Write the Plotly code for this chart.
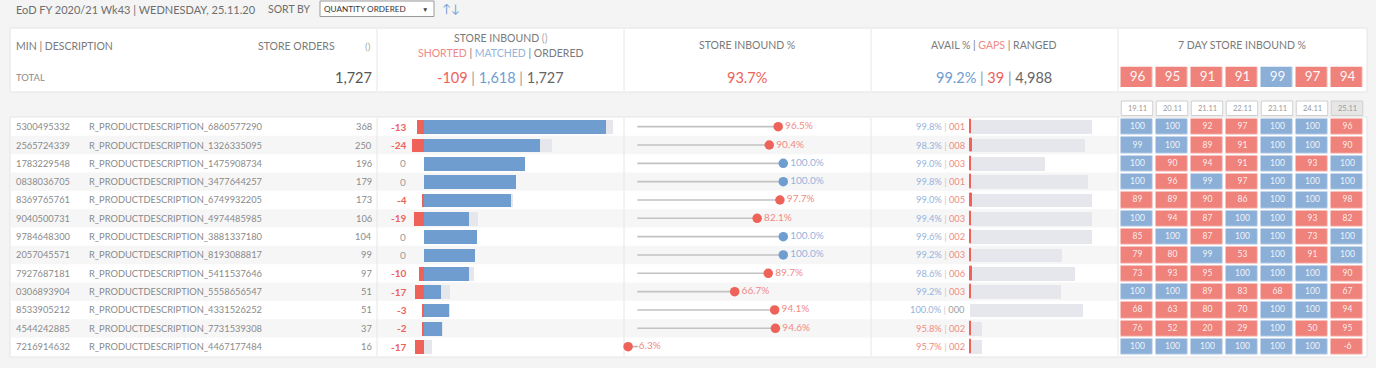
import plotly.graph_objects as go

W, H = 1376, 368
def px(x): return x / W
def py(y): return 1 - y / H

# ---------------- data ----------------
mins = ["5300495332", "2565724339", "1783229548", "0838036705", "8369765761", "9040500731",
        "9784648300", "2057045571", "7927687181", "0306893904", "8533905212", "4544242885", "7216914632"]
descs = ["R_PRODUCTDESCRIPTION_6860577290", "R_PRODUCTDESCRIPTION_1326335095", "R_PRODUCTDESCRIPTION_1475908734",
         "R_PRODUCTDESCRIPTION_3477644257", "R_PRODUCTDESCRIPTION_6749932205", "R_PRODUCTDESCRIPTION_4974485985",
         "R_PRODUCTDESCRIPTION_3881337180", "R_PRODUCTDESCRIPTION_8193088817", "R_PRODUCTDESCRIPTION_5411537646",
         "R_PRODUCTDESCRIPTION_5558656547", "R_PRODUCTDESCRIPTION_4331526252", "R_PRODUCTDESCRIPTION_7731539308",
         "R_PRODUCTDESCRIPTION_4467177484"]
orders = [368, 250, 196, 179, 173, 106, 104, 99, 97, 51, 51, 37, 16]
shorted = [-13, -24, 0, 0, -4, -19, 0, 0, -10, -17, -3, -2, -17]
inbound_pct = [96.5, 90.4, 100.0, 100.0, 97.7, 82.1, 100.0, 100.0, 89.7, 66.7, 94.1, 94.6, -6.3]
avail_pct = [99.8, 98.3, 99.0, 99.8, 99.0, 99.4, 99.6, 99.2, 98.6, 99.2, 100.0, 95.8, 95.7]
gaps = [1, 8, 3, 1, 5, 3, 2, 3, 6, 3, 0, 2, 2]
ranged = [500, 470, 306, 483, 500, 500, 500, 376, 427, 371, 460, 48, 47]
day_labels = ["19.11", "20.11", "21.11", "22.11", "23.11", "24.11", "25.11"]
day_values = [
    [100, 100, 92, 97, 100, 100, 96],
    [99, 100, 89, 91, 100, 100, 90],
    [100, 90, 94, 91, 100, 93, 100],
    [100, 96, 99, 97, 100, 100, 100],
    [89, 89, 90, 86, 100, 100, 98],
    [100, 94, 87, 100, 100, 93, 82],
    [85, 100, 87, 100, 100, 73, 100],
    [79, 80, 99, 53, 100, 91, 100],
    [73, 93, 95, 100, 100, 100, 90],
    [100, 100, 89, 83, 68, 100, 67],
    [68, 63, 80, 70, 100, 100, 94],
    [76, 52, 20, 29, 100, 50, 95],
    [100, 100, 100, 100, 100, 100, -6],
]
summary_day = [96, 95, 91, 91, 99, 97, 94]
total_avail_pct = 99.2

# ---------------- styles ----------------
FONT = "Lato, 'Open Sans', sans-serif"
RED = "#ee6259"
BLUE = "#6f9dd0"
RED_LT = "#f08a84"
BLUE_LT = "#94b4dc"
GRAY_BAR = "#e6e7ec"
CELL_RED = "#ef827b"
CELL_BLUE = "#8cafd7"
TXT = "#8a8a8a"
HDR = "#7a7a7a"

n = len(mins)
rows = list(range(n))
matched = [o + s for o, s in zip(orders, shorted)]

fig = go.Figure()

# store inbound bars
fig.add_trace(go.Bar(y=rows, x=orders, orientation="h", width=0.76, marker=dict(color=GRAY_BAR, line=dict(width=0)),
                     xaxis="x", yaxis="y", hoverinfo="skip"))
fig.add_trace(go.Bar(y=rows, x=matched, orientation="h", width=0.76, marker=dict(color=BLUE, line=dict(width=0)),
                     xaxis="x", yaxis="y", hoverinfo="skip"))
fig.add_trace(go.Bar(y=rows, x=[s if s else None for s in shorted], orientation="h", width=0.76,
                     marker=dict(color=RED, line=dict(width=0)), xaxis="x", yaxis="y", hoverinfo="skip"))

# lollipop
lx, ly = [], []
for i, v in enumerate(inbound_pct):
    lx += [0, v, None]
    ly += [i, i, None]
fig.add_trace(go.Scatter(x=lx, y=ly, mode="lines", line=dict(color="#c2c2c2", width=1.6),
                         xaxis="x2", yaxis="y", hoverinfo="skip"))
fig.add_trace(go.Scatter(x=inbound_pct, y=rows, mode="markers+text",
                         marker=dict(size=9.5, color=[BLUE if v >= 100 else RED for v in inbound_pct]),
                         text=[f"{v:.1f}%" for v in inbound_pct], textposition="middle right",
                         textfont=dict(size=10, family=FONT, color=[BLUE_LT if v >= 100 else RED_LT for v in inbound_pct]),
                         cliponaxis=False, xaxis="x2", yaxis="y", hoverinfo="skip"))

# availability bars
fig.add_trace(go.Bar(y=rows, x=ranged, orientation="h", width=0.76, marker=dict(color=GRAY_BAR, line=dict(width=0)),
                     xaxis="x3", yaxis="y", hoverinfo="skip"))
fig.add_trace(go.Bar(y=rows, x=[g if g else None for g in gaps], orientation="h", width=0.76,
                     marker=dict(color=RED, line=dict(color=RED, width=1)), xaxis="x3", yaxis="y", hoverinfo="skip"))

# 7 day heatmap
cs = [[0, CELL_RED], [0.5, CELL_RED], [0.5, CELL_BLUE], [1, CELL_BLUE]]
fig.add_trace(go.Heatmap(z=[[1 if v >= 99 else 0 for v in r] for r in day_values], x=list(range(7)), y=rows,
                         text=day_values, texttemplate="%{text}",
                         textfont=dict(size=8.5, family=FONT, color="rgba(255,255,255,0.88)"),
                         colorscale=cs, zmin=0, zmax=1, showscale=False, xgap=3.2, ygap=2.3,
                         xaxis="x4", yaxis="y", hoverinfo="skip"))
fig.add_trace(go.Heatmap(z=[[1 if v >= 99 else 0 for v in summary_day]], x=list(range(7)), y=[0],
                         text=[summary_day], texttemplate="%{text}",
                         textfont=dict(size=13.5, family=FONT, color="rgba(255,255,255,0.95)"),
                         colorscale=cs, zmin=0, zmax=1, showscale=False, xgap=3.4, ygap=0,
                         xaxis="x5", yaxis="y2", hoverinfo="skip"))

ax = dict(visible=False, fixedrange=True)
fig.update_layout(
    width=W, height=H, margin=dict(l=0, r=0, t=0, b=0),
    paper_bgcolor="#f4f4f4", plot_bgcolor="rgba(0,0,0,0)",
    font=dict(family=FONT, color=TXT), showlegend=False, barmode="overlay", bargap=0,
    xaxis=dict(domain=[px(380), px(620)], range=[-85.77, 382.1], anchor="y", **ax),
    xaxis2=dict(domain=[px(625), px(870)], range=[-8.42, 159.4], anchor="y", **ax),
    xaxis3=dict(domain=[px(968), px(1112)], range=[-9.42, 580.5], anchor="y", **ax),
    xaxis4=dict(domain=[px(1119.5), px(1364.5)], range=[-0.5, 6.5], anchor="y", **ax),
    xaxis5=dict(domain=[px(1119.5), px(1364.5)], range=[-0.5, 6.5], anchor="y2", **ax),
    yaxis=dict(domain=[py(355.8), py(117.5)], range=[n - 0.5, -0.5], anchor="x", **ax),
    yaxis2=dict(domain=[py(87), py(66.5)], range=[-0.5, 0.5], anchor="x5", **ax),
)

shapes = []
# panels
shapes.append(dict(type="rect", xref="paper", yref="paper", x0=px(10), x1=px(1367), y0=py(92), y1=py(28),
                   fillcolor="white", line=dict(color="#e4e4e4", width=1), layer="below"))
shapes.append(dict(type="rect", xref="paper", yref="paper", x0=px(10), x1=px(1367), y0=py(357), y1=py(117),
                   fillcolor="white", line=dict(color="#e4e4e4", width=1), layer="below"))
# row stripes
for i in rows:
    if i % 2 == 1:
        shapes.append(dict(type="rect", xref="paper", yref="y", x0=px(11), x1=px(1118), y0=i - 0.5, y1=i + 0.5,
                           fillcolor="#f6f6f6", line=dict(width=0), layer="below"))
# separators
for xs in [377, 624, 871, 1118]:
    shapes.append(dict(type="line", xref="paper", yref="paper", x0=px(xs), x1=px(xs), y0=py(91), y1=py(29),
                       line=dict(color="#e6e6e6", width=1), layer="below"))
    shapes.append(dict(type="line", xref="paper", yref="paper", x0=px(xs), x1=px(xs), y0=py(356), y1=py(118),
                       line=dict(color="#e6e6e6", width=1), layer="below"))
# dropdown box
shapes.append(dict(type="rect", xref="paper", yref="paper", x0=px(320), x1=px(434), y0=py(16.5), y1=py(1),
                   fillcolor="white", line=dict(color="#9a9a9a", width=1)))
# date header boxes
for j, lab in enumerate(day_labels):
    shapes.append(dict(type="rect", xref="x4", yref="paper", x0=j - 0.45, x1=j + 0.45, y0=py(115.5), y1=py(101),
                       fillcolor="#e6e6e6" if j == len(day_labels) - 1 else "white",
                       line=dict(color="#cfcfcf", width=1)))

ann = []
def A(x, y, text, size=10, color=TXT, xanchor="left", yref="paper", xref="paper"):
    ann.append(dict(x=x, y=y, xref=xref, yref=yref, text=text, showarrow=False, xanchor=xanchor,
                    yanchor="middle", font=dict(size=size, color=color, family=FONT)))

# top header
A(px(14), py(9.5), "EoD FY 2020/21 Wk43 | WEDNESDAY, 25.11.20", 11, "#6e6e6e")
A(px(266), py(9.5), "SORT BY", 10.5, "#6e6e6e")
A(px(322), py(9), "QUANTITY ORDERED", 8.2, "#333333")
A(px(430), py(9), "▼", 6.5, "#444444", "right")
A(px(440), py(8.5), "↑↓", 12, "#6fa0d8")

# summary panel
A(px(14), py(46), "MIN | DESCRIPTION", 10.5, HDR)
A(px(337), py(46), "STORE ORDERS", 10.5, HDR, "right")
A(px(373), py(46), "()", 10, "#aaaaaa", "right")
A(px(14), py(77), "TOTAL", 9.5, TXT)
tot_orders = sum(orders)
tot_short = sum(shorted)
tot_matched = tot_orders + tot_short
A(px(374), py(77), f"{tot_orders:,}", 14.5, "#555555", "right")

A(px(500.5), py(38), 'STORE INBOUND <span style="color:#aaaaaa">()</span>', 10.5, HDR, "center")
A(px(500.5), py(53.5), f'<span style="color:{RED_LT}">SHORTED</span> | <span style="color:{BLUE_LT}">MATCHED</span> | ORDERED',
  10.5, HDR, "center")
A(px(500.5), py(77), f'<span style="color:{RED}">{tot_short:,}</span> <span style="color:#999999">|</span> '
                     f'<span style="color:{BLUE}">{tot_matched:,}</span> <span style="color:#999999">|</span> '
                     f'<span style="color:#666666">{tot_orders:,}</span>', 14.5, "#666666", "center")

A(px(747), py(45), "STORE INBOUND %", 10.5, HDR, "center")
A(px(747), py(77), f"{100 * tot_matched / tot_orders:.1f}%", 14.5, RED, "center")

tot_gaps = sum(gaps)
tot_ranged = sum(ranged)
A(px(994), py(45), f'AVAIL % | <span style="color:{RED_LT}">GAPS</span> | RANGED', 10.5, HDR, "center")
A(px(994), py(77), f'<span style="color:{BLUE}">{total_avail_pct:.1f}%</span> <span style="color:#999999">|</span> '
                   f'<span style="color:{RED}">{tot_gaps}</span> <span style="color:#999999">|</span> '
                   f'<span style="color:#666666">{tot_ranged:,}</span>', 14.5, "#666666", "center")
A(px(1241.5), py(45), "7 DAY STORE INBOUND %", 10.5, HDR, "center")

# date labels
for j, lab in enumerate(day_labels):
    A(j, py(108.3), lab, 7.5, "#9a9a9a", "center", xref="x4")

# table rows
for i in rows:
    A(px(14), i, mins[i], 9.3, TXT, yref="y")
    A(px(87), i, descs[i], 9.3, TXT, yref="y")
    A(px(374), i, f"{orders[i]}", 9.3, TXT, "right", yref="y")
    s = shorted[i]
    if s:
        A(px(409), i, f"<b>{s}</b>", 10, RED, "right", yref="y")
    else:
        A(px(408), i, "0", 10, "#9a9a9a", "right", yref="y")
    pc = RED_LT if avail_pct[i] < 97 else BLUE_LT
    gc = RED_LT if gaps[i] else "#a0a0a0"
    A(px(967), i, f'<span style="color:{pc}">{avail_pct[i]:.1f}%</span><span style="color:#c8c8c8"> | </span>'
                  f'<span style="color:{gc}">{gaps[i]:03d}</span>', 9.3, TXT, "right", yref="y")

fig.update_layout(shapes=shapes, annotations=ann)
fig.write_html("out.html", config={"displayModeBar": False},
               post_script="document.body.style.margin='0';document.body.style.overflow='hidden';")
